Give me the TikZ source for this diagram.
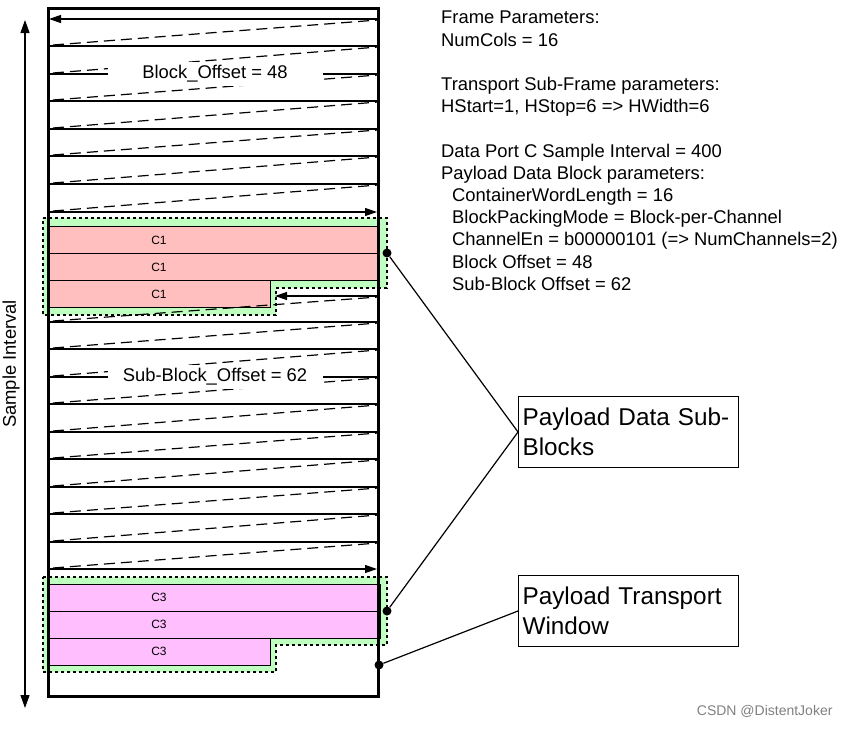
\documentclass[tikz,border=0pt]{standalone}
\usepackage{fontspec}
\setmainfont{Liberation Sans}
\usetikzlibrary{arrows.meta}
\begin{document}
\begin{tikzpicture}[x=1pt,y=-1pt,
  row/.style={line width=1.2pt},
  dsh/.style={line width=1.2pt,dash pattern=on 11pt off 6pt},
  arr/.style={line width=1.2pt,-{Triangle[length=12pt,width=8pt]}},
  green/.style={fill=grn,draw=black,line width=1.6pt,dash pattern=on 3pt off 3pt},
  blk/.style={draw=black,line width=1pt},
  cl/.style={font=\fontsize{12}{14}\selectfont},
  lbl/.style={font=\fontsize{18.4}{21}\selectfont,fill=white,inner sep=2pt},
  callout/.style={draw=black,line width=1.2pt,minimum width=220pt,minimum height=71pt,align=left,font=\fontsize{24.3}{30}\selectfont,text width=212pt,inner sep=4pt},
  dot/.style={circle,fill=black,inner sep=0pt,minimum size=9pt}]
\definecolor{grn}{HTML}{BFFFBF}
\definecolor{pnk}{HTML}{FFBFBF}
\definecolor{mag}{HTML}{FFBFFF}
\useasboundingbox (0,0) rectangle (850,728);
% green regions
\path[green] (43,218) -- (387,218) -- (387,288) -- (276,288) -- (276,315) -- (43,315) -- cycle;
\path[green] (43,577) -- (387,577) -- (387,645) -- (276,645) -- (276,672) -- (43,672) -- cycle;
% blocks
\foreach \y in {226,253}{\path[blk,fill=pnk] (48,\y) rectangle (378,\y+27);}
\path[blk,fill=pnk] (48,280) rectangle (270,307);
\foreach \y in {584,611}{\path[blk,fill=mag] (48,\y) rectangle (380,\y+27);}
\path[blk,fill=mag] (48,638) rectangle (270,665);
\node[cl] (c1a) at (159,240) {C1};
\node[cl] (c1b) at (159,267) {C1};
\node[cl] (c1c) at (159,294) {C1};
\node[cl] (c3a) at (159,597) {C3};
\node[cl] (c3b) at (159,624) {C3};
\node[cl] (c3c) at (159,651) {C3};
% rows top
\foreach \y in {46,74,101,129,156,184}{\draw[row] (48,\y) -- (378,\y);}
\draw[arr] (378,19) -- (49,19);
\draw[arr] (48,212) -- (377,212);
\foreach \a/\b in {19/46,46/74,74/101,101/129,129/156,156/184,184/212}{\draw[dsh] (53,\b-1) -- (378,\a+1);}
% rows middle
\draw[arr] (378,296) -- (275,296);
\foreach \y in {322,349,377,404,432,459,487,514,542}{\draw[row] (48,\y) -- (378,\y);}
\draw[arr] (48,569) -- (377,569);
\foreach \a/\b in {296/322,322/349,349/377,377/404,404/432,432/459,459/487,487/514,514/542,542/569}{\draw[dsh] (53,\b-1) -- (378,\a+1);}
\node[lbl,minimum width=215pt,minimum height=24pt] (bo) at (215,74) {Block\_Offset = 48};
\node[lbl,minimum width=215pt,minimum height=24pt] (sbo) at (215,377) {Sub-Block\_Offset = 62};
% frame
\draw[line width=3pt] (48,8) rectangle (378,696);
% sample interval
\coordinate (st) at (25,20);
\coordinate (sb) at (25,708);
\draw[line width=1.2pt,{Triangle[length=13pt,width=9pt]}-{Triangle[length=13pt,width=9pt]}] (st) -- (sb);
\node[rotate=90,font=\fontsize{18.4}{21}\selectfont] (si) at (11,364) {Sample Interval};
% parameters
\node[anchor=north west,align=left,font=\fontsize{18.4}{22.2}\selectfont,inner sep=0pt] (par) at (441,11) {Frame Parameters:\\NumCols = 16\\[22.2pt]Transport Sub-Frame parameters:\\HStart=1, HStop=6 => HWidth=6\\[22.2pt]Data Port C Sample Interval = 400\\Payload Data Block parameters:\\\hspace{11pt}ContainerWordLength = 16\\\hspace{11pt}BlockPackingMode = Block-per-Channel\\\hspace{11pt}ChannelEn = b00000101 (=> NumChannels=2)\\\hspace{11pt}Block Offset = 48\\\hspace{11pt}Sub-Block Offset = 62};
% callouts
\node[callout,anchor=north west] (pds) at (518,396) {Payload Data Sub-\\Blocks};
\node[callout,anchor=north west] (ptw) at (518,575) {Payload Transport\\Window};
\node[dot] (d1) at (387,253) {};
\node[dot] (d2) at (387,611) {};
\node[dot] (d3) at (379,665) {};
\coordinate (p1) at (518,432);
\coordinate (p2) at (518,611);
\draw[line width=1.2pt] (d1) -- (p1) -- (d2);
\draw[line width=1.2pt] (d3) -- (p2);
\node[anchor=east,font=\fontsize{14}{16}\selectfont,text=gray] (wm) at (836,711) {CSDN @DistentJoker};
\end{tikzpicture}
\end{document}
